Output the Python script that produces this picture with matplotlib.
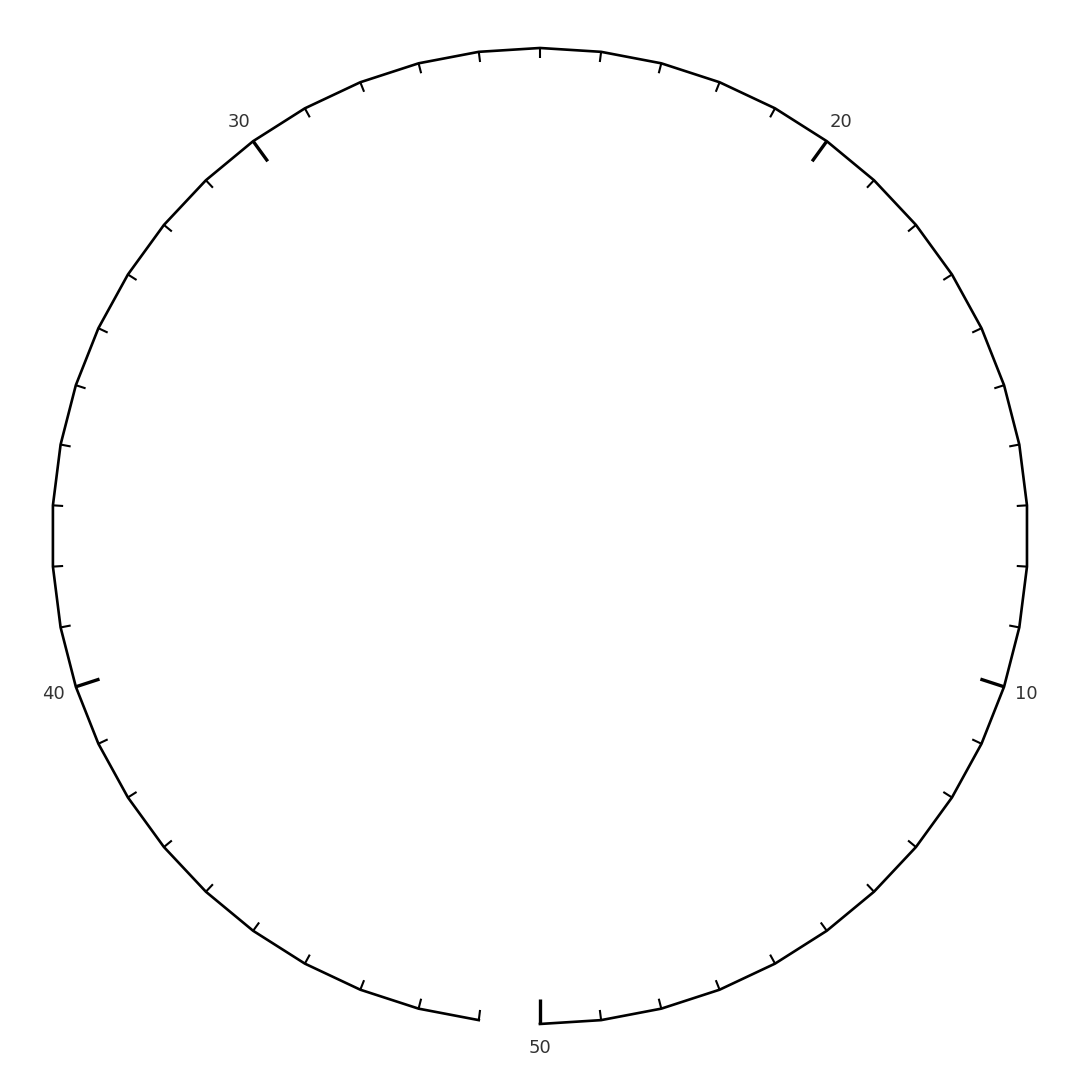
import numpy as np
import matplotlib
matplotlib.use("Agg")
import matplotlib.pyplot as plt

# data
n_points = 50
positions = list(range(0, 50))           # 0..49 around the circle
values = [1.0] * 50                       # constant radius
major_ticks = [0, 10, 20, 30, 40]
major_labels = ["50", "10", "20", "30", "40"]

fig = plt.figure(figsize=(10.8, 10.74), dpi=100)
ax = fig.add_axes([0.0481, 0.04655, 0.9037, 0.9088], projection="polar")
ax.set_theta_zero_location("S")
ax.set_theta_direction(1)

theta = [2 * np.pi * p / n_points for p in positions]
ax.plot(theta, values, color="black", linewidth=1.9, clip_on=False,
        solid_joinstyle="miter", zorder=3)

# inward tick marks at every position (major longer/thicker)
minor_len = 0.021
major_len = 0.051
for p in range(n_points):
    t = 2 * np.pi * p / n_points
    if p in major_ticks:
        ax.plot([t, t], [1.0, 1.0 - major_len], color="black", linewidth=2.4,
                solid_capstyle="butt", clip_on=False, zorder=2)
    else:
        ax.plot([t, t], [1.0, 1.0 - minor_len], color="black", linewidth=1.5,
                solid_capstyle="butt", clip_on=False, zorder=2)

ax.set_ylim(0, 1)
ax.set_yticks([])
ax.grid(False)
for sp in ax.spines.values():
    sp.set_visible(False)

ax.set_xticks([2 * np.pi * t / n_points for t in major_ticks])
ax.set_xticklabels(major_labels)
ax.tick_params(axis="x", which="major", length=0, labelsize=13,
               labelcolor="#333333", pad=10)

fig.savefig("out.png", dpi=100)
